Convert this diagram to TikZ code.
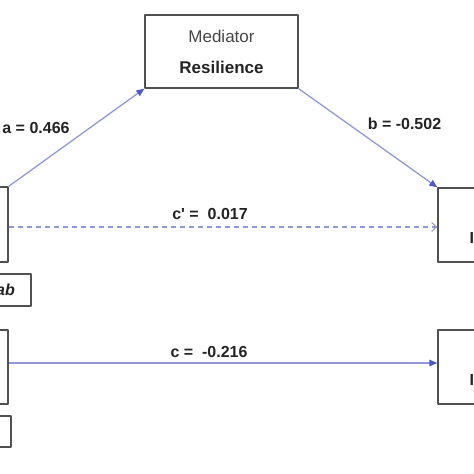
\documentclass[tikz,border=0pt]{standalone}
\usepackage{fontspec}
\setmainfont{Liberation Sans}
\usetikzlibrary{arrows.meta}
\definecolor{boxgray}{RGB}{80,80,80}
\definecolor{pathblue}{RGB}{145,152,215}
\definecolor{tipblue}{RGB}{75,90,200}
\definecolor{txtgray}{RGB}{35,35,35}
\begin{document}
\begin{tikzpicture}[x=1pt, y=-1pt, line join=round, text=txtgray,
	font=\bfseries\fontsize{16}{18}\selectfont,
	box/.style={draw=boxgray, line width=1.3pt, inner sep=0pt},
	path/.style={draw=pathblue, line width=1.3pt, -{Triangle[length=8pt,width=6.5pt,color=tipblue]}},
	direct/.style={draw=pathblue, line width=1.1pt, dash pattern=on 5pt off 4pt, -{Straight Barb[length=5pt,width=9pt,line width=1pt]}}]
	\useasboundingbox (0,0) rectangle (474,474);
	\clip (0,0) rectangle (474,474);
	% boxes
	\node[box, minimum width=153, minimum height=73, align=center, font=\fontsize{17}{31}\selectfont] (med) at (221.5,51.5) {\textcolor{black!72}{Mediator}\\\textbf{Resilience}};
	\node[box, minimum width=90, minimum height=75] (xu) at (-37,224.5) {};
	\node[box, minimum width=90, minimum height=74] (yu) at (483,225) {};
	\node[box, minimum width=90, minimum height=74] (xl) at (-37,367) {};
	\node[box, minimum width=90, minimum height=74] (yl) at (483,367) {};
	\node[anchor=east, inner xsep=0pt] (ab) at (15,290) {\itshape ab};
	\draw[boxgray, line width=1.3pt] (-40,274) rectangle (31,306) (-40,416) rectangle (11,447);
	\node[anchor=west] (yutext) at (466,238) {I};
	\node[anchor=west] (yltext) at (466,380) {I};
	% paths
	\draw[path] (xu.north east) -- (med.south west);
	\draw[path] (med.south east) -- (yu.north west);
	\draw[direct] ([yshift=-2.5pt]xu.east) -- ([yshift=-2pt]yu.west);
	\draw[path] ([yshift=4pt]xl.east) -- ([yshift=4pt]yl.west);
	% coefficients
	\node at (36,128) {a = 0.466};
	\node at (404.5,124) {b = -0.502};
	\node at (210,214) {c\textquotesingle{} =~~0.017};
	\node at (209,352) {c =~~-0.216};
\end{tikzpicture}
\end{document}
